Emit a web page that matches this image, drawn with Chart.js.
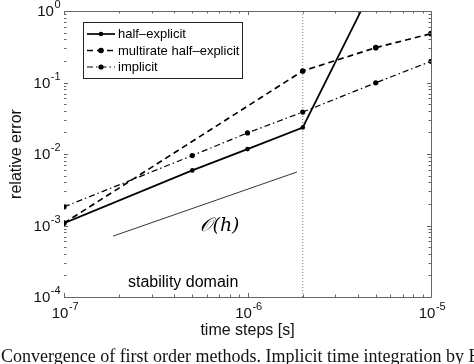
<!DOCTYPE html>
<html><head><meta charset="utf-8">
<script src="https://cdn.jsdelivr.net/npm/chart.js@4.4.1/dist/chart.umd.min.js"></script>
<style>
html,body{margin:0;padding:0;background:#fff;}
#wrap{position:relative;width:474px;height:364px;overflow:hidden;}
#c{position:absolute;left:0;top:0;}
#cap{position:absolute;left:1px;top:347px;font:18px/18px "Liberation Serif","Times New Roman",serif;white-space:nowrap;color:#111;}
</style></head><body>
<div id="wrap"><canvas id="c" width="474" height="364"></canvas><div id="cap">Convergence of first order methods. Implicit time integration by E</div></div>
<script>
// ---- data ----
const halfExplicitX = [1e-7, 5e-7, 1e-6, 2e-6, 5e-6];
const halfExplicitY = [1.08e-3, 5.9e-3, 1.17e-2, 2.35e-2, 2.6];
const multirateX = [1e-7, 2e-6, 5e-6, 1e-5];
const multirateY = [1.08e-3, 0.145, 0.307, 0.482];
const implicitX = [1e-7, 5e-7, 1e-6, 2e-6, 5e-6, 1e-5];
const implicitY = [1.82e-3, 9.5e-3, 1.97e-2, 3.86e-2, 0.099, 0.198];
const orderRefX = [1.85e-7, 1.86e-6];
const orderRefY = [7.1e-4, 5.6e-3];
const stabilityLimitX = [2e-6, 2e-6];
const stabilityLimitY = [1e-4, 1];
const xDecades = [-7, -6, -5];
const yDecades = [-4, -3, -2, -1, 0];
const seriesLabels = ['half–explicit', 'multirate half–explicit', 'implicit'];
const xTitle = 'time steps [s]';
const yTitle = 'relative error';
const orderLabel = '𝒪(h)';
const domainLabel = 'stability domain';

const zip = (xs, ys) => xs.map((x, i) => ({x: x, y: ys[i]}));
const SUP = {'-':'⁻','0':'⁰','1':'¹','2':'²','3':'³','4':'⁴','5':'⁵','6':'⁶','7':'⁷','8':'⁸','9':'⁹'};
const UNSUP = {}; Object.keys(SUP).forEach(k => { UNSUP[SUP[k]] = k; });
const powLabel = e => '10' + String(e).split('').map(c => SUP[c]).join('');
function logTicks(decades) {
  const t = [];
  for (let i = 0; i < decades.length; i++) {
    const d = decades[i];
    t.push({value: Math.pow(10, d), major: true});
    if (i < decades.length - 1) for (let k = 2; k <= 9; k++) t.push({value: k * Math.pow(10, d), major: false});
  }
  return t;
}
function labelFor(v) {
  const e = Math.round(Math.log10(v));
  return Math.abs(Math.log10(v) - e) < 1e-9 ? powLabel(e) : '';
}

const FAM = '"Liberation Sans", Arial, Helvetica, sans-serif';
Chart.defaults.font.family = FAM;
Chart.defaults.color = '#111';

function drawPow(ctx, label, x, y, align) {
  // label like "10⁻³": draw base and raised exponent
  const base = label.slice(0, 2);
  const exp = label.slice(2).split('').map(c => UNSUP[c] || c).join('');
  ctx.font = '15px ' + FAM;
  const wb = ctx.measureText(base).width;
  ctx.font = '11px ' + FAM;
  const we = ctx.measureText(exp).width;
  let left = align === 'right' ? x - wb - we : x - (wb + we) / 2;
  ctx.textAlign = 'left'; ctx.textBaseline = 'middle';
  ctx.font = '15px ' + FAM;
  ctx.fillText(base, left, y);
  ctx.font = '11px ' + FAM;
  ctx.fillText(exp, left + wb + 0.5, y - 7);
}

const frame = {
  id: 'frame',
  afterDatasetsDraw(chart) {
    const {ctx, chartArea: a, scales: {x, y}} = chart;
    ctx.save();
    ctx.strokeStyle = '#666';
    ctx.lineWidth = 1;
    ctx.beginPath();
    ctx.moveTo(a.left, a.top + 0.5); ctx.lineTo(a.right + 0.5, a.top + 0.5);
    ctx.lineTo(a.right + 0.5, a.bottom + 0.5); ctx.lineTo(a.left, a.bottom + 0.5);
    ctx.stroke();
    ctx.beginPath();
    x.ticks.forEach(t => {
      const px = Math.round(x.getPixelForValue(t.value)) + 0.5;
      const L = t.major ? 4 : 2.5;
      ctx.moveTo(px, a.bottom); ctx.lineTo(px, a.bottom - L);
      ctx.moveTo(px, a.top); ctx.lineTo(px, a.top + L);
    });
    y.ticks.forEach(t => {
      const py = Math.round(y.getPixelForValue(t.value)) + 0.5;
      const L = t.major ? 4 : 2.5;
      ctx.moveTo(a.left, py); ctx.lineTo(a.left + L, py);
      ctx.moveTo(a.right, py); ctx.lineTo(a.right - L, py);
    });
    ctx.stroke();
    // tick labels from the scales' own ticks
    ctx.fillStyle = '#111';
    x.ticks.forEach(t => { if (t.label) drawPow(ctx, t.label, x.getPixelForValue(t.value) + 1, a.bottom + 17, 'center'); });
    y.ticks.forEach(t => { if (t.label) drawPow(ctx, t.label, a.left - 4, y.getPixelForValue(t.value) + 1, 'right'); });
    ctx.restore();
  },
  afterDraw(chart) {
    const {ctx} = chart;
    ctx.save();
    // legend
    const bx = 83.5, by = 22.5, bw = 159, bh = 56;
    ctx.fillStyle = '#fff';
    ctx.fillRect(bx, by, bw, bh);
    ctx.strokeStyle = '#222'; ctx.lineWidth = 1; ctx.setLineDash([]);
    ctx.strokeRect(bx, by, bw, bh);
    const rows = [34, 50.5, 67];
    for (let i = 0; i < 3; i++) {
      const ds = chart.data.datasets[i];
      const yy = rows[i];
      ctx.strokeStyle = '#000';
      ctx.lineWidth = ds.borderWidth;
      ctx.setLineDash(ds.borderDash || []);
      ctx.beginPath(); ctx.moveTo(87, yy); ctx.lineTo(115, yy); ctx.stroke();
      ctx.setLineDash([]);
      ctx.fillStyle = '#000';
      ctx.beginPath(); ctx.arc(101, yy, ds.pointRadius, 0, Math.PI * 2); ctx.fill();
      ctx.font = '13px ' + FAM;
      ctx.textBaseline = 'middle'; ctx.textAlign = 'left';
      ctx.fillText(ds.label, 118, yy + 0.5);
    }
    // annotations
    ctx.fillStyle = '#000';
    ctx.font = 'italic 19px "DejaVu Serif", "Liberation Serif", serif';
    ctx.textAlign = 'center'; ctx.textBaseline = 'middle';
    ctx.fillText(orderLabel, 220, 226);
    ctx.font = '16px ' + FAM;
    ctx.textAlign = 'left';
    ctx.fillText(domainLabel, 128, 283);
    ctx.restore();
  }
};

new Chart(document.getElementById('c'), {
  type: 'line',
  data: {
    datasets: [
      {label: seriesLabels[0], data: zip(halfExplicitX, halfExplicitY), borderColor: '#000', backgroundColor: '#000',
       borderWidth: 1.7, borderDash: [], pointRadius: 2.3, pointBorderWidth: 0},
      {label: seriesLabels[1], data: zip(multirateX, multirateY), borderColor: '#000', backgroundColor: '#000',
       borderWidth: 1.7, borderDash: [6, 4], pointRadius: 2.8, pointBorderWidth: 0},
      {label: seriesLabels[2], data: zip(implicitX, implicitY), borderColor: '#000', backgroundColor: '#000',
       borderWidth: 1.2, borderDash: [6, 3, 1.5, 3], pointRadius: 2.6, pointBorderWidth: 0},
      {label: 'O(h)', data: zip(orderRefX, orderRefY), borderColor: '#000', borderWidth: 0.8, pointRadius: 0},
      {label: 'limit', data: zip(stabilityLimitX, stabilityLimitY), borderColor: '#777', borderWidth: 1,
       borderDash: [1, 2], pointRadius: 0}
    ]
  },
  options: {
    responsive: false,
    animation: false,
    devicePixelRatio: 1,
    layout: {padding: {left: 0, right: 43, top: 11, bottom: 22}},
    plugins: {legend: {display: false}, tooltip: {enabled: false}},
    elements: {line: {tension: 0}},
    scales: {
      x: {
        type: 'logarithmic', min: 1e-7, max: 1e-5, position: 'bottom',
        afterBuildTicks: s => { s.ticks = logTicks(xDecades); },
        afterFit: s => { s.height = 45; },
        grid: {display: false}, border: {display: false},
        ticks: {display: false, autoSkip: false, maxRotation: 0, callback: v => labelFor(v)},
        title: {display: true, text: xTitle, font: {size: 16}, padding: {top: 0, bottom: 2}, color: '#111'}
      },
      y: {
        type: 'logarithmic', min: 1e-4, max: 1, position: 'left',
        afterBuildTicks: s => { s.ticks = logTicks(yDecades); },
        afterFit: s => { s.width = 64; },
        grid: {display: false}, border: {display: false},
        ticks: {display: false, autoSkip: false, callback: v => labelFor(v)},
        title: {display: true, text: yTitle, font: {size: 16}, padding: {top: 7, bottom: 0}, color: '#111'}
      }
    }
  },
  plugins: [frame]
});
</script>
</body></html>
